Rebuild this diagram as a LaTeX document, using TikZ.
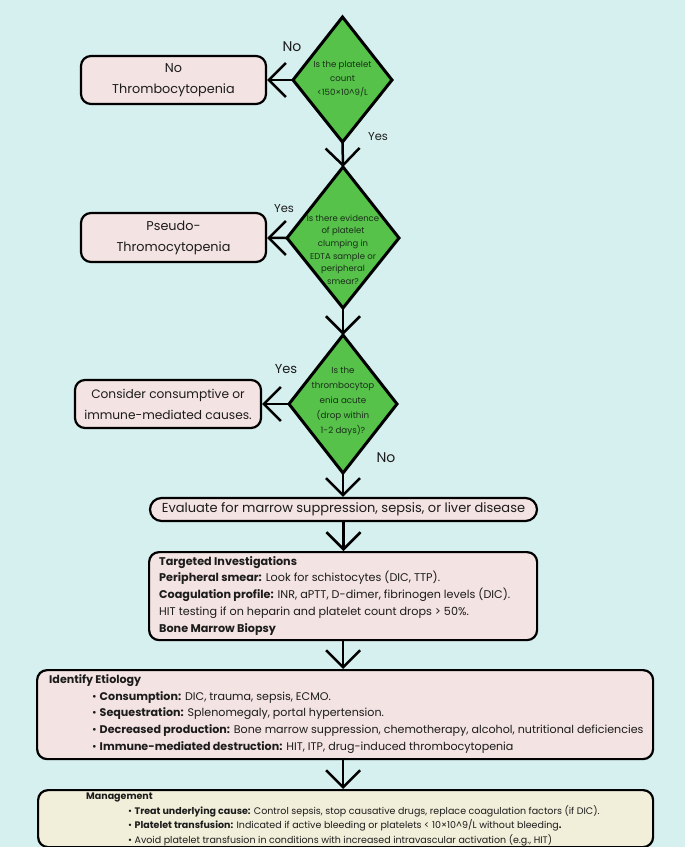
\documentclass[tikz,border=0pt]{standalone}
\usepackage{fontspec}
\setmainfont{Poppins}
\usetikzlibrary{arrows.meta}
\definecolor{bgc}{HTML}{D6EFEF}
\definecolor{pinkfill}{HTML}{F3E3E2}
\definecolor{creamfill}{HTML}{F1EEDA}
\definecolor{diagreen}{HTML}{56C24A}
\definecolor{ink}{HTML}{1C1C1C}
\definecolor{dink}{HTML}{1A2E1A}
\tikzset{
  pbox/.style={draw=black, line width=2.2pt, fill=pinkfill, rounded corners=10pt, inner sep=0pt, align=center, text=ink},
  cbox/.style={draw=black, line width=2.2pt, fill=creamfill, rounded corners=10pt, inner sep=0pt},
  dia/.style={draw=black, line width=3pt, fill=diagreen, line join=miter},
  dtext/.style={align=center, inner sep=0pt, text=dink},
  lbl/.style={inner sep=0pt, text=ink},
  body/.style={align=left, inner sep=0pt, text=ink, anchor=west},
  arr/.style={line width=2.5pt, -{Straight Barb[length=17pt,width=34pt,line width=2.5pt]}},
}
\begin{document}
\begin{tikzpicture}[x=1pt,y=-1pt]
\useasboundingbox (0,0) rectangle (685,847);
\fill[bgc] (0,0) rectangle (685,847);

% Diamond 1
\coordinate (d1t) at (342.5,17);
\coordinate (d1r) at (392,80);
\coordinate (d1b) at (342.5,142);
\coordinate (d1l) at (293,80);
\draw[dia] (d1t) -- (d1r) -- (d1b) -- (d1l) -- cycle;
\node[dtext, font=\fontsize{8.6}{14}\selectfont] (d1) at (342.5,79) {Is the platelet\\count\\<150×10\textasciicircum9/L};

% Diamond 2
\coordinate (d2t) at (343,167);
\coordinate (d2r) at (399,238);
\coordinate (d2b) at (343,308);
\coordinate (d2l) at (287,238);
\draw[dia] (d2t) -- (d2r) -- (d2b) -- (d2l) -- cycle;
\node[dtext, font=\fontsize{8.5}{12.6}\selectfont] (d2) at (343,249.5) {Is there evidence\\of platelet\\clumping in\\EDTA sample or\\peripheral\\smear?};

% Diamond 3
\coordinate (d3t) at (343,335);
\coordinate (d3r) at (397,404);
\coordinate (d3b) at (343,473);
\coordinate (d3l) at (289,404);
\draw[dia] (d3t) -- (d3r) -- (d3b) -- (d3l) -- cycle;
\node[dtext, font=\fontsize{8.7}{15}\selectfont] (d3) at (343,401) {Is the\\thrombocytop\\enia acute\\(drop within\\1-2 days)?};

% Left boxes
\node[pbox, minimum width=185pt, minimum height=48pt, font=\fontsize{12.8}{21.5}\selectfont] (b1) at (173.5,80) {No\\Thrombocytopenia};
\node[pbox, minimum width=185pt, minimum height=49pt, font=\fontsize{12.8}{21}\selectfont] (b2) at (173.5,237.5) {Pseudo-\\Thromocytopenia};
\node[pbox, minimum width=186pt, minimum height=48pt, font=\fontsize{12.2}{21}\selectfont] (b3) at (168,404) {Consider consumptive or\\immune-mediated causes.};

% Evaluate
\node[pbox, rounded corners=11.5pt, minimum width=387pt, minimum height=23pt, font=\fontsize{13}{14}\selectfont] (ev) at (343.5,509.5) {Evaluate for marrow suppression, sepsis, or liver disease};

% Targeted investigations
\node[pbox, anchor=north west, minimum width=388pt, minimum height=88pt] (ti) at (148,551) {};
\node[body, font=\fontsize{11.2}{16.75}\selectfont] (tit) at (159,595.5) {\textbf{Targeted Investigations}\\
\textbf{Peripheral smear:} Look for schistocytes (DIC, TTP).\\
\textbf{Coagulation profile:} INR, aPTT, D-dimer, fibrinogen levels (DIC).\\
HIT testing if on heparin and platelet count drops > 50\%.\\
\textbf{Bone Marrow Biopsy}};

% Identify etiology
\node[pbox, anchor=north west, minimum width=616pt, minimum height=89pt] (id) at (36,669) {};
\node[body, font=\fontsize{11.1}{16.75}\selectfont] (idt) at (49,714) {\textbf{Identify Etiology}\\
\hspace*{43pt}\textbullet\ \textbf{Consumption:} DIC, trauma, sepsis, ECMO.\\
\hspace*{43pt}\textbullet\ \textbf{Sequestration:} Splenomegaly, portal hypertension.\\
\hspace*{43pt}\textbullet\ \textbf{Decreased production:} Bone marrow suppression, chemotherapy, alcohol, nutritional deficiencies\\
\hspace*{43pt}\textbullet\ \textbf{Immune-mediated destruction:} HIT, ITP, drug-induced thrombocytopenia};

% Management
\node[cbox, anchor=north west, minimum width=615pt, minimum height=57pt] (mg) at (37,789) {};
\node[body, font=\fontsize{9.5}{14.5}\selectfont] (mgt) at (86,819.5) {\textbf{Management}\\
\hspace*{42pt}\textbullet\ \textbf{Treat underlying cause:} Control sepsis, stop causative drugs, replace coagulation factors (if DIC).\\
\hspace*{42pt}\textbullet\ \textbf{Platelet transfusion:} Indicated if active bleeding or platelets < 10×10\textasciicircum9/L without bleeding\textbf{.}\\
\hspace*{42pt}\textbullet\ Avoid platelet transfusion in conditions with increased intravascular activation (e.g., HIT)};

% Labels
\node[lbl, font=\fontsize{14}{16}\selectfont] (l1) at (292,47) {No};
\node[lbl, font=\fontsize{11.5}{13}\selectfont] (l2) at (378,137) {Yes};
\node[lbl, font=\fontsize{11.5}{13}\selectfont] (l3) at (284,209) {Yes};
\node[lbl, font=\fontsize{13}{14}\selectfont] (l4) at (286,369) {Yes};
\node[lbl, font=\fontsize{14}{16}\selectfont] (l5) at (386,458) {No};

% Connectors
\draw[arr] (d1l) -- (b1);
\draw[arr] (d2l) -- (b2);
\draw[arr] (d3l) -- (b3);
\draw[arr] (d1b) -- (d2t);
\draw[arr] (d2b) -- (d3t);
\draw[arr] (d3b) -- (d3b |- ev.north);
\draw[arr] (ev.south) -- (ev.south |- ti.north);
\draw[arr] (ti.south) -- (ti.south |- id.north);
\draw[arr] (ti.south |- id.south) -- (ti.south |- mg.north);
\end{tikzpicture}
\end{document}
